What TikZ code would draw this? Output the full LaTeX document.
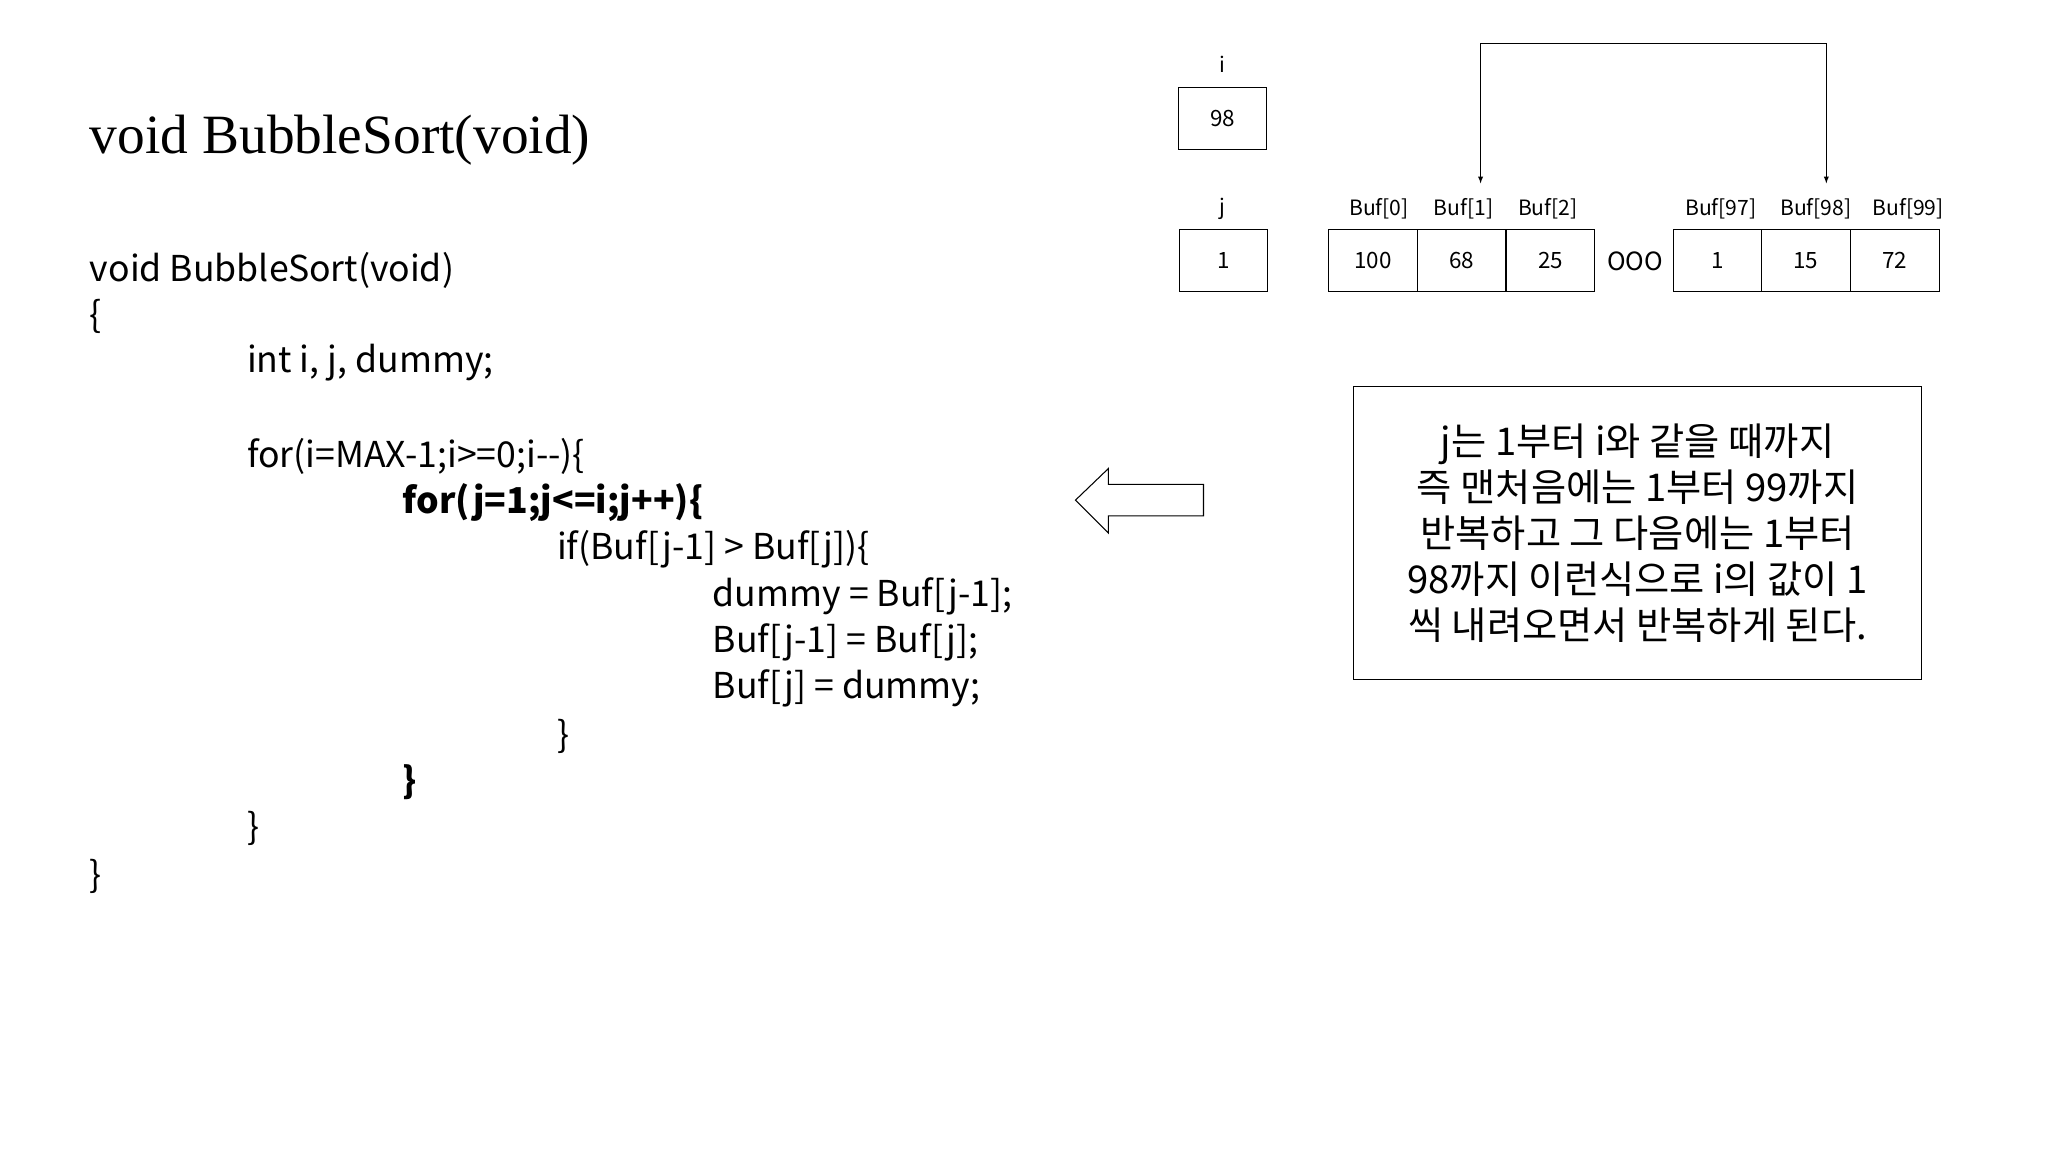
\documentclass[tikz,border=0pt]{standalone}
\usepackage{fontspec}
\setmainfont{Liberation Serif}
\newfontfamily\kr{Noto Sans CJK KR}
\begin{document}
\begin{tikzpicture}[x=1pt,y=-1pt,
  cell/.style={draw,thick,minimum width=67pt,minimum height=47pt,inner sep=0pt,font=\kr\fontsize{17}{20}\selectfont},
  lbl/.style={font=\kr\fontsize{16}{19}\selectfont,inner sep=0pt},
  code/.style={anchor=west,inner sep=0pt,font=\kr\fontsize{27}{32}\selectfont}]
\useasboundingbox (0,0) rectangle (1552,873);
\node[anchor=west,inner sep=0pt,font=\fontsize{42}{48}\selectfont] (title) at (68,106) {void BubbleSort(void)};
\node[code] (c1) at (68,205) {void BubbleSort(void)};
\node[code] (c2) at (68,240) {\{};
\node[code] (c3) at (187,275) {int i, j, dummy;};
\node[code] (c4) at (187,346) {for(i=MAX-1;i>=0;i-{}-)\{};
\node[code,font=\kr\bfseries\fontsize{27}{32}\selectfont] (c5) at (305,381) {for(j=1;j<=i;j++)\{};
\node[code] (c6) at (422,416) {if(Buf[j-1] > Buf[j])\{};
\node[code] (c7) at (540,452) {dummy = Buf[j-1];};
\node[code] (c8) at (540,487) {Buf[j-1] = Buf[j];};
\node[code] (c9) at (540,522) {Buf[j] = dummy;};
\node[code] (c10) at (422,558) {\}};
\node[code,font=\kr\bfseries\fontsize{27}{32}\selectfont] (c11) at (305,593) {\}};
\node[code] (c12) at (187,628) {\}};
\node[code] (c13) at (68,664) {\}};
% variables
\node[cell] (bi) at (926.5,89.5) {98};
\node[lbl] (li) at (926,49) {i};
\node[cell] (bj) at (927,197.5) {1};
\node[lbl] (lj) at (926,158) {j};
% buffers
\node[cell] (b0) at (1040.5,197.5) {100};
\node[cell] (b1) at (1107.5,197.5) {68};
\node[cell] (b2) at (1175,197.5) {25};
\node[cell] (b97) at (1301.5,197.5) {1};
\node[cell] (b98) at (1368.5,197.5) {15};
\node[cell] (b99) at (1436,197.5) {72};
\node[lbl,font=\kr\fontsize{19}{22}\selectfont] (dots) at (1239,198) {OOO};
\node[lbl] (l0) at (1045,158) {Buf[0]};
\node[lbl] (l1) at (1109,158) {Buf[1]};
\node[lbl] (l2) at (1173,158) {Buf[2]};
\node[lbl] (l97) at (1304,158) {Buf[97]};
\node[lbl] (l98) at (1376,158) {Buf[98]};
\node[lbl] (l99) at (1446,158) {Buf[99]};
\coordinate (a1) at (1122,139);
\coordinate (a2) at (1384,139);
\coordinate (top) at (1250,33);
\draw[thick,-latex] (top) -| (a1);
\draw[thick,-latex] (top) -| (a2);
% text box
\node[draw,thick,minimum width=430pt,minimum height=222pt,align=center,inner sep=0pt,
  font=\kr\fontsize{29}{35}\selectfont] (note) at (1241,404)
 {j는 1부터 i와 같을 때까지\\즉 맨처음에는 1부터 99까지\\반복하고 그 다음에는 1부터\\98까지 이런식으로 i의 값이 1\\씩 내려오면서 반복하게 된다.};
% hollow arrow
\draw[thick] (815,379) -- (840,355) -- (840,367) -- (912,367) -- (912,391) -- (840,391) -- (840,404) -- cycle;
\end{tikzpicture}
\end{document}
